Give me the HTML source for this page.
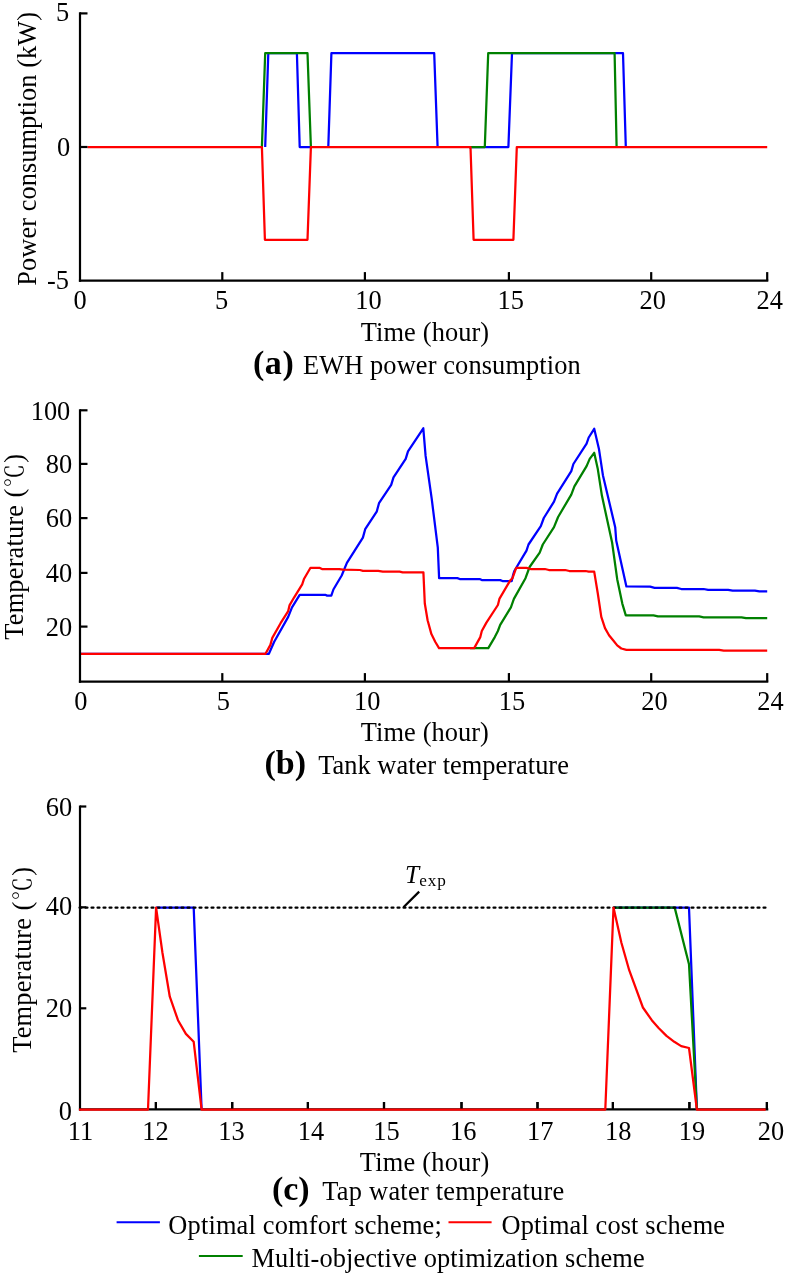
<!DOCTYPE html>
<html><head><meta charset="utf-8"><title>EWH figure</title>
<style>
html,body{margin:0;padding:0;background:#fff;}
svg{display:block;font-family:"Liberation Serif", serif;fill:#000;}
</style></head><body>
<svg width="785" height="1275" viewBox="0 0 785 1275">
<rect width="785" height="1275" fill="#fff"/>
<polyline points="265.2,147.0 268.3,53.2 296.9,53.2 299.7,147.0 312.0,147.0" fill="none" stroke="#0000ff" stroke-width="2.25" stroke-linejoin="round" stroke-linecap="butt" />
<polyline points="328.3,147.0 331.4,53.2 434.2,53.2 437.6,147.0" fill="none" stroke="#0000ff" stroke-width="2.25" stroke-linejoin="round" stroke-linecap="butt" />
<polyline points="469.0,147.0 508.4,147.0 512.0,53.2 623.0,53.2 625.8,147.0" fill="none" stroke="#0000ff" stroke-width="2.25" stroke-linejoin="round" stroke-linecap="butt" />
<polyline points="261.9,147.0 265.2,53.2 307.5,53.2 310.9,147.0" fill="none" stroke="#008000" stroke-width="2.25" stroke-linejoin="round" stroke-linecap="butt" />
<polyline points="469.0,147.0 484.8,147.0 488.2,53.2 614.6,53.2 616.6,147.0" fill="none" stroke="#008000" stroke-width="2.25" stroke-linejoin="round" stroke-linecap="butt" />
<polyline points="87.5,147.0 261.9,147.0 264.9,239.8 307.5,239.8 310.9,147.0 470.5,147.0 473.6,239.8 513.4,239.8 516.8,147.0 767.2,147.0" fill="none" stroke="#ff0000" stroke-width="2.25" stroke-linejoin="round" stroke-linecap="butt" />
<line x1="80.0" y1="12.3" x2="80.0" y2="281.7" stroke="#000" stroke-width="2.2" />
<line x1="78.9" y1="280.6" x2="768.3" y2="280.6" stroke="#000" stroke-width="2.2" />
<line x1="222.3" y1="280.6" x2="222.3" y2="272.1" stroke="#000" stroke-width="2.2" />
<line x1="364.9" y1="280.6" x2="364.9" y2="272.1" stroke="#000" stroke-width="2.2" />
<line x1="508.9" y1="280.6" x2="508.9" y2="272.1" stroke="#000" stroke-width="2.2" />
<line x1="651.2" y1="280.6" x2="651.2" y2="272.1" stroke="#000" stroke-width="2.2" />
<line x1="767.2" y1="280.6" x2="767.2" y2="272.1" stroke="#000" stroke-width="2.2" />
<line x1="80.0" y1="13.4" x2="87.5" y2="13.4" stroke="#000" stroke-width="2.2" />
<line x1="80.0" y1="147.0" x2="87.5" y2="147.0" stroke="#000" stroke-width="2.2" />
<text x="56.00" y="21.00" font-size="26.4">5</text>
<text x="57.00" y="155.60" font-size="26.4">0</text>
<text x="47.00" y="289.10" font-size="26.4">-5</text>
<text x="73.40" y="309.20" font-size="26.4">0</text>
<text x="215.00" y="309.20" font-size="26.4">5</text>
<text x="355.30" y="309.20" font-size="26.4">10</text>
<text x="497.60" y="309.20" font-size="26.4">15</text>
<text x="639.50" y="309.20" font-size="26.4">20</text>
<text x="756.60" y="309.20" font-size="26.4">24</text>
<text transform="translate(35.80 285.70) rotate(-90)" font-size="26.4" letter-spacing="0.052">Power consumption (kW)</text>
<text x="360.80" y="341.30" font-size="26.4" letter-spacing="0.07" word-spacing="0.3">Time (hour)</text>
<text x="253.00" y="374.00" font-size="34" font-weight="bold" letter-spacing="0.55">(a)</text>
<text x="302.90" y="374.00" font-size="26.4" letter-spacing="0.115">EWH power consumption</text>
<polyline points="80.0,653.8 268.9,653.8 274.2,641.7 288.2,616.9 292.0,607.3 299.7,594.8 325.2,594.8 327.1,595.6 331.3,595.6 333.4,589.5 341.7,575.5 346.9,562.9 362.9,537.6 365.2,529.2 376.7,511.7 379.0,503.2 391.2,484.9 393.5,477.3 405.7,458.9 408.0,451.3 423.3,428.3 425.6,455.9 431.7,498.7 437.8,547.6 439.1,578.1 457.4,578.1 459.7,579.0 479.6,579.0 481.8,580.1 500.2,580.1 502.5,581.0 511.7,581.0 513.2,574.5 514.3,571.0 526.5,550.6 528.5,544.5 540.8,526.2 543.8,518.0 554.0,501.7 557.1,493.6 571.3,471.1 573.4,464.0 586.6,443.6 588.7,437.5 594.2,428.8 598.9,448.7 602.9,475.2 615.2,527.2 616.2,540.5 626.4,586.5 650.1,586.7 654.6,587.9 676.9,587.9 681.3,589.0 703.6,589.0 708.1,589.8 728.1,589.8 732.6,590.6 754.9,590.6 759.4,591.4 767.2,591.4" fill="none" stroke="#0000ff" stroke-width="2.25" stroke-linejoin="round" stroke-linecap="butt" />
<polyline points="470.0,648.1 488.3,648.1 494.8,637.1 497.9,631.0 500.2,624.9 510.9,607.3 513.9,598.9 525.5,578.2 529.6,567.0 539.7,552.7 542.8,544.5 554.0,527.2 558.1,517.0 571.3,494.6 574.4,486.4 586.6,466.1 589.7,458.9 594.2,452.8 597.8,469.1 601.9,495.6 612.1,542.5 617.2,579.2 622.3,603.6 625.8,615.4 653.5,615.4 657.9,616.4 699.2,616.4 703.6,617.3 741.5,617.3 746.0,618.2 767.2,618.2" fill="none" stroke="#008000" stroke-width="2.25" stroke-linejoin="round" stroke-linecap="butt" />
<polyline points="80.0,653.8 265.5,653.8 270.4,644.9 272.3,637.9 280.6,623.2 288.2,611.1 289.5,605.4 293.9,597.8 302.2,584.4 304.1,578.7 310.5,567.8 319.4,567.8 322.0,569.1 339.2,569.1 343.0,569.7 359.9,570.0 362.9,570.8 378.2,570.8 382.8,571.6 399.6,571.6 402.7,572.4 423.4,572.4 424.8,603.5 427.6,620.3 431.4,634.1 435.2,641.7 439.0,648.1 474.2,648.1 480.3,637.1 481.8,631.0 486.4,622.6 497.9,605.0 499.4,598.9 510.1,580.6 512.4,578.3 516.2,567.8 526.5,567.8 530.6,569.0 544.8,569.0 548.9,570.0 565.2,570.0 569.3,571.0 585.6,571.0 588.7,571.6 594.2,571.6 597.8,593.5 601.3,616.9 605.0,628.1 609.0,635.2 613.1,640.3 617.2,645.4 621.3,648.5 626.4,649.9 719.2,649.9 723.7,650.7 767.2,650.7" fill="none" stroke="#ff0000" stroke-width="2.25" stroke-linejoin="round" stroke-linecap="butt" />
<line x1="80.0" y1="409.2" x2="80.0" y2="682.7" stroke="#000" stroke-width="2.2" />
<line x1="78.9" y1="681.6" x2="768.3" y2="681.6" stroke="#000" stroke-width="2.2" />
<line x1="222.3" y1="681.6" x2="222.3" y2="673.1" stroke="#000" stroke-width="2.2" />
<line x1="364.9" y1="681.6" x2="364.9" y2="673.1" stroke="#000" stroke-width="2.2" />
<line x1="508.9" y1="681.6" x2="508.9" y2="673.1" stroke="#000" stroke-width="2.2" />
<line x1="651.2" y1="681.6" x2="651.2" y2="673.1" stroke="#000" stroke-width="2.2" />
<line x1="767.2" y1="681.6" x2="767.2" y2="673.1" stroke="#000" stroke-width="2.2" />
<line x1="80.0" y1="410.3" x2="87.5" y2="410.3" stroke="#000" stroke-width="2.2" />
<line x1="80.0" y1="463.9" x2="87.5" y2="463.9" stroke="#000" stroke-width="2.2" />
<line x1="80.0" y1="518.1" x2="87.5" y2="518.1" stroke="#000" stroke-width="2.2" />
<line x1="80.0" y1="572.9" x2="87.5" y2="572.9" stroke="#000" stroke-width="2.2" />
<line x1="80.0" y1="626.6" x2="87.5" y2="626.6" stroke="#000" stroke-width="2.2" />
<text x="30.70" y="419.50" font-size="26.4">100</text>
<text x="45.70" y="473.10" font-size="26.4">80</text>
<text x="45.70" y="527.30" font-size="26.4">60</text>
<text x="45.70" y="582.10" font-size="26.4">40</text>
<text x="45.70" y="635.80" font-size="26.4">20</text>
<text x="74.30" y="709.50" font-size="26.4">0</text>
<text x="216.70" y="709.50" font-size="26.4">5</text>
<text x="354.10" y="709.50" font-size="26.4">10</text>
<text x="498.70" y="709.50" font-size="26.4">15</text>
<text x="641.30" y="709.50" font-size="26.4">20</text>
<text x="757.20" y="709.50" font-size="26.4">24</text>
<text transform="translate(23.00 639.70) rotate(-90)" font-size="26.4"><tspan x="0.00"  letter-spacing="0.18">Temperature</tspan> <tspan x="142.30" >(</tspan><tspan x="152.20" font-family="Noto Serif CJK SC, DejaVu Serif, serif" font-size="23.52">℃</tspan><tspan x="177.00" >)</tspan></text>
<text x="360.80" y="740.50" font-size="26.4" letter-spacing="0.05" word-spacing="0.3">Time (hour)</text>
<text x="264.40" y="773.90" font-size="34" font-weight="bold" letter-spacing="0.1">(b)</text>
<text x="318.30" y="773.90" font-size="26.4" letter-spacing="0.019">Tank water temperature</text>
<line x1="80.0" y1="805.4" x2="80.0" y2="1110.4" stroke="#000" stroke-width="2.2" />
<line x1="78.9" y1="1109.3" x2="768.3" y2="1109.3" stroke="#000" stroke-width="2.2" />
<line x1="155.9" y1="1109.3" x2="155.9" y2="1102.0" stroke="#000" stroke-width="2.2" />
<line x1="232.2" y1="1109.3" x2="232.2" y2="1102.0" stroke="#000" stroke-width="2.2" />
<line x1="307.9" y1="1109.3" x2="307.9" y2="1102.0" stroke="#000" stroke-width="2.2" />
<line x1="384.0" y1="1109.3" x2="384.0" y2="1102.0" stroke="#000" stroke-width="2.2" />
<line x1="461.5" y1="1109.3" x2="461.5" y2="1102.0" stroke="#000" stroke-width="2.2" />
<line x1="537.5" y1="1109.3" x2="537.5" y2="1102.0" stroke="#000" stroke-width="2.2" />
<line x1="612.9" y1="1109.3" x2="612.9" y2="1102.0" stroke="#000" stroke-width="2.2" />
<line x1="689.4" y1="1109.3" x2="689.4" y2="1102.0" stroke="#000" stroke-width="2.2" />
<line x1="766.9" y1="1109.3" x2="766.9" y2="1102.0" stroke="#000" stroke-width="2.2" />
<line x1="80.0" y1="806.5" x2="86.3" y2="806.5" stroke="#000" stroke-width="2.2" />
<line x1="80.0" y1="907.3" x2="86.3" y2="907.3" stroke="#000" stroke-width="2.2" />
<line x1="80.0" y1="1008.3" x2="86.3" y2="1008.3" stroke="#000" stroke-width="2.2" />
<polyline points="156.1,907.6 193.7,907.6 201.6,1109.5" fill="none" stroke="#0000ff" stroke-width="2.25" stroke-linejoin="round" stroke-linecap="butt" />
<polyline points="613.5,907.6 689.0,907.6 696.9,1109.5" fill="none" stroke="#0000ff" stroke-width="2.25" stroke-linejoin="round" stroke-linecap="butt" />
<polyline points="613.5,907.6 674.7,907.6 689.0,964.3 696.9,1109.5" fill="none" stroke="#008000" stroke-width="2.25" stroke-linejoin="round" stroke-linecap="butt" />
<line x1="79.6" y1="907.6" x2="768.3" y2="907.6" stroke="#000" stroke-width="2.4" stroke-dasharray="1.8 4.2" stroke-linecap="round"/>
<polyline points="79.0,1109.5 148.0,1109.5 156.1,907.6 162.4,952.5 169.8,996.7 178.0,1020.2 185.9,1033.9 193.7,1041.8 201.6,1109.5 605.3,1109.5 613.5,907.6 621.4,942.7 629.2,970.2 642.9,1007.5 651.8,1020.2 658.6,1028.0 666.5,1035.9 674.3,1041.8 681.2,1046.1 689.0,1048.0 696.9,1109.5 765.7,1109.5" fill="none" stroke="#ff0000" stroke-width="2.25" stroke-linejoin="round" stroke-linecap="butt" />
<line x1="155.9" y1="1108.3" x2="155.9" y2="1102.0" stroke="#000" stroke-width="2.2" />
<line x1="232.2" y1="1108.3" x2="232.2" y2="1102.0" stroke="#000" stroke-width="2.2" />
<line x1="307.9" y1="1108.3" x2="307.9" y2="1102.0" stroke="#000" stroke-width="2.2" />
<line x1="384.0" y1="1108.3" x2="384.0" y2="1102.0" stroke="#000" stroke-width="2.2" />
<line x1="461.5" y1="1108.3" x2="461.5" y2="1102.0" stroke="#000" stroke-width="2.2" />
<line x1="537.5" y1="1108.3" x2="537.5" y2="1102.0" stroke="#000" stroke-width="2.2" />
<line x1="612.9" y1="1108.3" x2="612.9" y2="1102.0" stroke="#000" stroke-width="2.2" />
<line x1="689.4" y1="1108.3" x2="689.4" y2="1102.0" stroke="#000" stroke-width="2.2" />
<line x1="766.9" y1="1108.3" x2="766.9" y2="1102.0" stroke="#000" stroke-width="2.2" />
<line x1="403.5" y1="907.3" x2="419.2" y2="891.6" stroke="#000" stroke-width="2.2" />
<text font-size="25.4"><tspan x="405.10" y="882.7" font-style="italic">T</tspan><tspan x="419.20" y="885.5" font-size="17.2" letter-spacing="0.95">exp</tspan></text>
<text x="45.80" y="815.70" font-size="26.4">60</text>
<text x="45.80" y="915.20" font-size="26.4">40</text>
<text x="45.80" y="1017.20" font-size="26.4">20</text>
<text x="58.80" y="1119.80" font-size="26.4">0</text>
<text x="67.70" y="1139.90" font-size="26.4">11</text>
<text x="142.30" y="1139.90" font-size="26.4">12</text>
<text x="218.30" y="1139.90" font-size="26.4">13</text>
<text x="297.70" y="1139.90" font-size="26.4">14</text>
<text x="373.30" y="1139.90" font-size="26.4">15</text>
<text x="450.00" y="1139.90" font-size="26.4">16</text>
<text x="527.10" y="1139.90" font-size="26.4">17</text>
<text x="605.10" y="1139.90" font-size="26.4">18</text>
<text x="678.80" y="1139.90" font-size="26.4">19</text>
<text x="757.70" y="1139.90" font-size="26.4">20</text>
<text transform="translate(30.50 1052.80) rotate(-90)" font-size="26.4"><tspan x="0.00"  letter-spacing="0.18">Temperature</tspan> <tspan x="142.30" >(</tspan><tspan x="152.20" font-family="Noto Serif CJK SC, DejaVu Serif, serif" font-size="23.52">℃</tspan><tspan x="177.00" >)</tspan></text>
<text x="359.80" y="1170.50" font-size="26.4" letter-spacing="0.18" word-spacing="0.3">Time (hour)</text>
<text x="272.00" y="1199.70" font-size="34" font-weight="bold" letter-spacing="-0.05">(c)</text>
<text x="322.30" y="1199.70" font-size="26.4" letter-spacing="0.25">Tap water temperature</text>
<line x1="116.6" y1="1222.3" x2="159.9" y2="1222.3" stroke="#0000ff" stroke-width="2" />
<text x="168.30" y="1233.80" font-size="26.4" letter-spacing="0.173">Optimal comfort scheme;</text>
<line x1="448.5" y1="1222.3" x2="491.6" y2="1222.3" stroke="#ff0000" stroke-width="2" />
<text x="501.50" y="1233.80" font-size="26.4" letter-spacing="0.122">Optimal cost scheme</text>
<line x1="198.9" y1="1256.0" x2="242.7" y2="1256.0" stroke="#008000" stroke-width="2" />
<text x="251.40" y="1267.00" font-size="26.4" letter-spacing="0.1">Multi-objective optimization scheme</text>
</svg>
</body></html>
